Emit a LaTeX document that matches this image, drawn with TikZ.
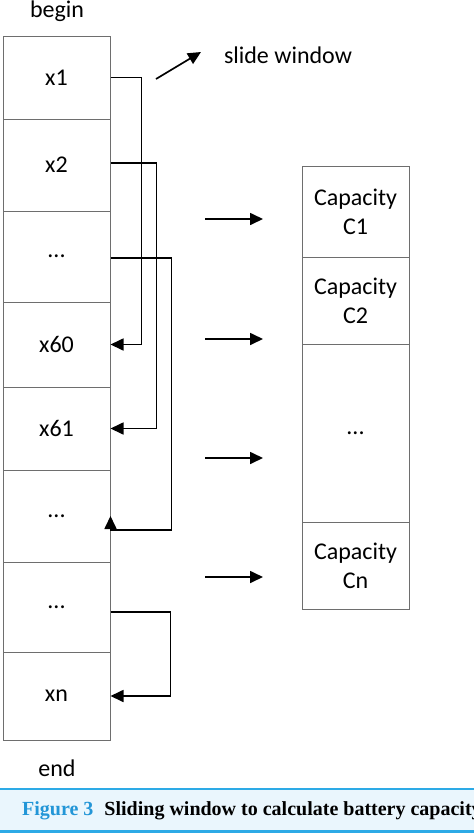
\documentclass[tikz,border=0pt]{standalone}
\usepackage{fontspec}
\setmainfont{Carlito}
\newfontfamily\capfont{Liberation Serif}
\usetikzlibrary{arrows.meta,positioning}
\definecolor{boxgray}{RGB}{110,110,110}
\definecolor{figblue}{RGB}{35,150,215}
\definecolor{bandbg}{RGB}{234,246,253}
\definecolor{bandline}{RGB}{45,170,230}
\tikzset{
  cell/.style={draw=boxgray, line width=1pt, minimum width=107pt, inner sep=0pt, font=\fontsize{24}{29}\selectfont, align=center},
  lbl/.style={inner sep=0pt, font=\fontsize{24}{29}\selectfont},
  conn/.style={draw=black, line width=1.7pt, -{Triangle[length=13pt,width=12pt]}},
}
\begin{document}
\begin{tikzpicture}[x=1pt,y=-1pt]
\clip (0,0) rectangle (474,833);
\fill[white] (0,0) rectangle (474,833);
% left column
\node[cell, minimum height=83pt] (x1) at (56.5,77.5) {x1};
\node[cell, minimum height=92pt] (x2) at (56.5,165) {x2};
\node[cell, minimum height=91pt] (d1) at (56.5,256.5) {...};
\node[cell, minimum height=85pt] (x60) at (56.5,344.5) {x60};
\node[cell, minimum height=83pt] (x61) at (56.5,428.5) {x61};
\node[cell, minimum height=92pt] (d2) at (56.5,516) {...};
\node[cell, minimum height=90pt] (d3) at (56.5,607) {...};
\node[cell, minimum height=88pt] (xn) at (56.5,696) {xn};
\node[lbl] (begin) at (57,11) {begin};
\node[lbl] (end) at (57,768) {end};
% connectors of the window
\draw[conn] (x1.east) -- ++(31,0) |- (x60.east);
\draw[conn] ([yshift=2pt]x2.east) -- ++(46,0) |- (x61.east);
\coordinate (d2in) at ([yshift=-14pt]d2.east);
\draw[conn] ([yshift=-1.5pt]d1.east) -- ++(61,0) |- (d2in) -- (d2.east);
\draw[conn] ([yshift=-5pt]d3.east) -- ++(60,0) |- (xn.east);
% slide window
\coordinate (sw1) at (156,79);
\coordinate (sw2) at (201,52);
\draw[conn] (sw1) -- (sw2);
\node[lbl] (swl) at (288,55) {slide window};
% right column
\node[cell, minimum height=91pt] (c1) at (355.5,211.5) {Capacity\\C1};
\node[cell, minimum height=87pt] (c2) at (355.5,300.5) {Capacity\\C2};
\node[cell, minimum height=178pt] (cd) at (355.5,433) {...};
\node[cell, minimum height=87pt] (cn) at (355.5,565.5) {Capacity\\Cn};
% arrows between
\coordinate (a1s) at (205,219); \coordinate (a1e) at (263,219);
\coordinate (a2s) at (205,339); \coordinate (a2e) at (263,339);
\coordinate (a3s) at (205,458); \coordinate (a3e) at (263,458);
\coordinate (a4s) at (205,577); \coordinate (a4e) at (263,577);
\draw[conn] (a1s) -- (a1e);
\draw[conn] (a2s) -- (a2e);
\draw[conn] (a3s) -- (a3e);
\draw[conn] (a4s) -- (a4e);
% caption band
\fill[bandbg] (0,789) rectangle (474,830);
\draw[bandline, line width=1.5pt] (0,789) -- (474,789);
\draw[bandline, line width=3.5pt] (0,831.5) -- (474,831.5);
\node[anchor=base west, inner sep=0pt, font=\capfont\bfseries\fontsize{20}{24}\selectfont] (cap) at (22,815)
  {\textcolor{figblue}{Figure 3}\hspace{11pt}Sliding window to calculate battery capacity};
\end{tikzpicture}
\end{document}
